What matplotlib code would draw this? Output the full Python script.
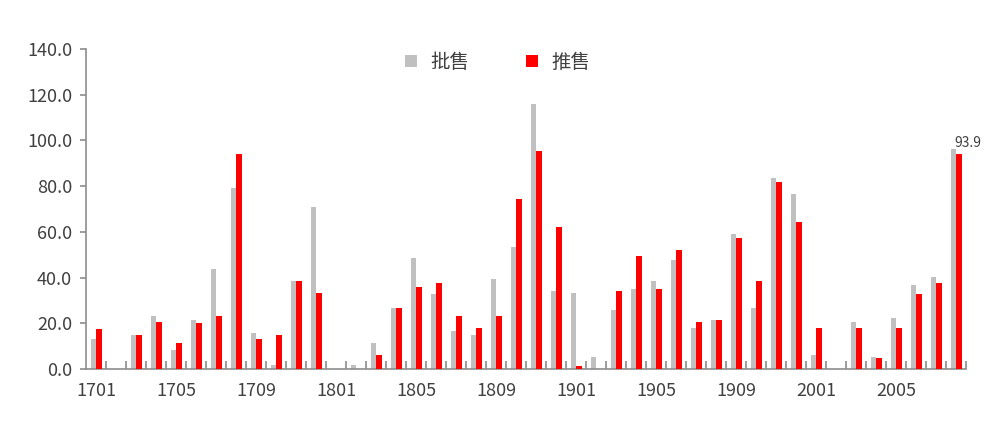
import matplotlib
matplotlib.use("Agg")
import matplotlib.pyplot as plt
import numpy as np

plt.rcParams['font.family'] = ['Noto Sans CJK SC', 'DejaVu Sans']

categories = ([f"17{m:02d}" for m in range(1, 13)] +
              [f"18{m:02d}" for m in range(1, 13)] +
              [f"19{m:02d}" for m in range(1, 13)] +
              [f"20{m:02d}" for m in range(1, 9)])

wholesale = [13.1, 0, 14.9, 23.3, 8.2, 21.6, 43.7, 79.3, 15.7, 2.0, 38.5, 70.7,
             0, 1.9, 11.4, 26.7, 48.7, 32.7, 16.5, 14.9, 39.4, 53.6, 115.7, 34.3,
             33.4, 5.5, 25.8, 35.1, 38.5, 47.8, 18.2, 21.6, 58.9, 26.7, 83.4, 76.7,
             6.3, 0, 20.7, 5.5, 22.4, 36.9, 40.2, 96.2]

launch = [17.5, 0, 14.9, 20.7, 11.4, 20.1, 23.3, 93.9, 13.1, 14.9, 38.5, 33.4,
          0, 0, 6.3, 26.7, 36.0, 37.6, 23.3, 18.2, 23.3, 74.2, 95.3, 62.2,
          1.2, 0, 34.3, 49.6, 35.1, 52.2, 20.7, 21.6, 57.3, 38.5, 81.8, 64.1,
          18.2, 0, 18.2, 4.7, 18.2, 32.7, 37.6, 93.9]

series_names = ["批售", "推售"]
yticks = [0, 20, 40, 60, 80, 100, 120, 140]

grey = "#c0c0c0"
red = "#ff0000"
txt = "#404040"
axc = "#8c8c8c"

fig = plt.figure(figsize=(10, 4.48), dpi=100)
ax = fig.add_axes([0.086, 0.176, 0.880, 0.715])

x = np.arange(len(categories))
w = 0.28
ax.bar(x - 0.13, wholesale, width=w, color=grey, label=series_names[0], zorder=2)
ax.bar(x + 0.15, launch, width=w, color=red, label=series_names[1], zorder=3)

ax.set_xlim(-0.5, len(categories) - 0.5)
ax.set_ylim(0, 140)
ax.set_yticks(yticks)
ax.set_yticklabels([f"{v:.1f}" for v in yticks])

ax.set_xticks(x[::4])
ax.set_xticklabels(categories[::4])
ax.set_xticks(x + 0.5, minor=True)

for s in ["top", "right"]:
    ax.spines[s].set_visible(False)
for s in ["left", "bottom"]:
    ax.spines[s].set_color(axc)
    ax.spines[s].set_linewidth(1.2)

ax.tick_params(axis="y", direction="out", length=4, width=1.2, color=axc,
               labelsize=13, labelcolor=txt, pad=6)
ax.tick_params(axis="x", which="major", length=0, labelsize=13,
               labelcolor=txt, pad=9)
ax.tick_params(axis="x", which="minor", direction="in", length=6, width=1.2,
               color=axc)

ax.text(x[-1] + 0.6, launch[-1] + 2.0, f"{launch[-1]:.1f}", ha="center",
        va="bottom", fontsize=10, color=txt, clip_on=False)

leg = ax.legend(loc="upper center", bbox_to_anchor=(0.468, 1.045), ncol=2,
                frameon=False, fontsize=14, handlelength=0.6, handleheight=0.6,
                handletextpad=0.7, columnspacing=2.9)
for t in leg.get_texts():
    t.set_color(txt)

fig.savefig("out.png", dpi=100)
